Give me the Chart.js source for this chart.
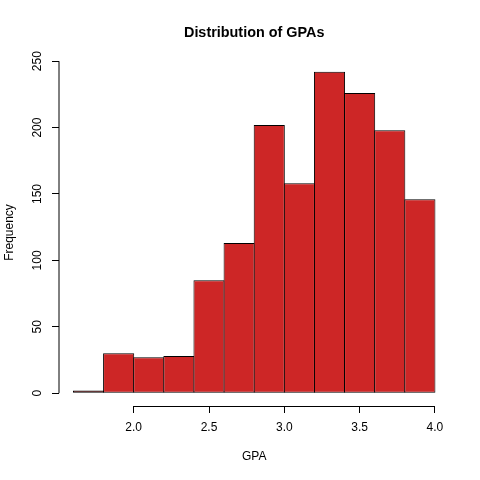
<!DOCTYPE html>
<html>
<head>
<meta charset="utf-8">
<script src="https://cdn.jsdelivr.net/npm/chart.js@4/dist/chart.umd.min.js"></script>
<style>
html,body{margin:0;padding:0;background:#fff;}
canvas{display:block;}
</style>
</head>
<body>
<canvas id="c" width="480" height="480"></canvas>
<script>
// Data (histogram of GPAs, bin width 0.2)
const binStarts = [1.6, 1.8, 2.0, 2.2, 2.4, 2.6, 2.8, 3.0, 3.2, 3.4, 3.6, 3.8];
const binWidth = 0.2;
const frequencies = [2, 30, 27, 28, 85, 113, 202, 158, 242, 226, 198, 146];
const xTicks = [2.0, 2.5, 3.0, 3.5, 4.0];
const yTicks = [0, 50, 100, 150, 200, 250];
const titleText = 'Distribution of GPAs';
const xTitle = 'GPA';
const yTitle = 'Frequency';

const FONT = "'Liberation Sans', Arial, Helvetica, sans-serif";
Chart.defaults.font.family = FONT;
Chart.defaults.color = '#000';

const points = binStarts.map((s, i) => ({ x: s + binWidth / 2, y: frequencies[i] }));

const xMin = binStarts[0], xMax = binStarts[binStarts.length - 1] + binWidth;
const xPad = (xMax - xMin) * 0.04;
const yMaxData = Math.max(...frequencies);
const yPad = yMaxData * 0.04;

const rAxisLines = {
  id: 'rAxisLines',
  afterDraw(chart) {
    const ctx = chart.ctx;
    const xs = chart.scales.x, ys = chart.scales.y;
    const ca = chart.chartArea;
    ctx.save();
    ctx.strokeStyle = '#000';
    ctx.lineWidth = 1;
    ctx.beginPath();
    ctx.moveTo(xs.getPixelForValue(xTicks[0]), ca.bottom + 0.5);
    ctx.lineTo(xs.getPixelForValue(xTicks[xTicks.length - 1]), ca.bottom + 0.5);
    ctx.moveTo(ca.left, ys.getPixelForValue(yTicks[0]));
    ctx.lineTo(ca.left, ys.getPixelForValue(yTicks[yTicks.length - 1]));
    ctx.stroke();
    ctx.restore();
  }
};

new Chart(document.getElementById('c'), {
  type: 'bar',
  data: {
    datasets: [{
      data: points,
      backgroundColor: '#CD2626',
      borderColor: '#000',
      borderWidth: 1,
      borderSkipped: false,
      barPercentage: 1.033,
      categoryPercentage: 1
    }]
  },
  options: {
    responsive: false,
    animation: false,
    layout: { padding: { left: 0, right: 30.6, top: 0, bottom: 0 } },
    plugins: {
      legend: { display: false },
      tooltip: { enabled: false },
      title: {
        display: true,
        text: titleText,
        fullSize: false,
        font: { size: 14.4, weight: 'bold', family: FONT },
        color: '#000',
        padding: { top: 24.4, bottom: 17.3 }
      }
    },
    scales: {
      x: {
        type: 'linear',
        offset: false,
        min: xMin - xPad,
        max: xMax + xPad,
        afterBuildTicks(scale) { scale.ticks = xTicks.map(v => ({ value: v })); },
        afterFit(scale) { scale.height = 74; },
        ticks: {
          callback: v => Number(v).toFixed(1),
          font: { size: 12, family: FONT },
          color: '#000',
          padding: 7.5,
          maxRotation: 0,
          autoSkip: false
        },
        grid: { display: true, offset: false, drawOnChartArea: false, drawTicks: true, tickLength: 7, color: '#000', lineWidth: 1 },
        border: { display: false },
        title: { display: true, text: xTitle, font: { size: 12, family: FONT }, color: '#000', padding: { top: 0, bottom: 16.3 } }
      },
      y: {
        type: 'linear',
        offset: false,
        min: -yPad,
        max: yMaxData + yPad,
        afterBuildTicks(scale) { scale.ticks = yTicks.map(v => ({ value: v })); },
        afterFit(scale) { scale.width = 59; },
        ticks: {
          callback: v => String(v),
          font: { size: 12, family: FONT },
          color: '#000',
          padding: 4,
          minRotation: 90,
          maxRotation: 90,
          crossAlign: 'center',
          autoSkip: false
        },
        grid: { display: true, offset: false, drawOnChartArea: false, drawTicks: true, tickLength: 7, color: '#000', lineWidth: 1 },
        border: { display: false },
        title: { display: true, text: yTitle, font: { size: 12, family: FONT }, color: '#000', padding: { top: 2.3, bottom: 0 } }
      }
    }
  },
  plugins: [rAxisLines]
});
</script>
</body>
</html>
